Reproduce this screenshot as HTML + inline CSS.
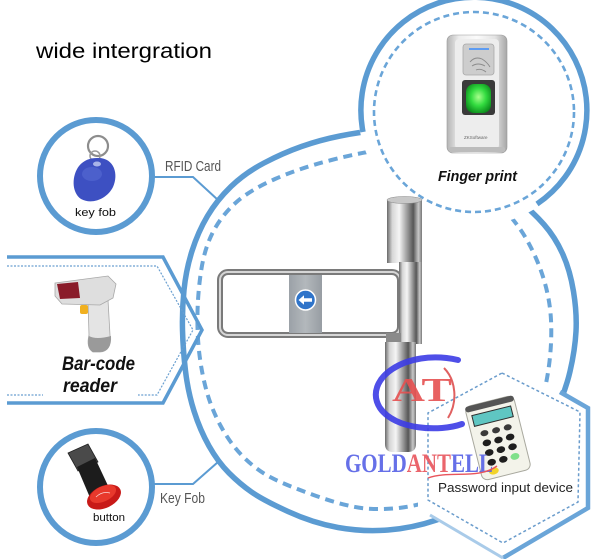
<!DOCTYPE html>
<html>
<head>
<meta charset="utf-8">
<style>
  html,body{margin:0;padding:0;background:#fff;}
  body{width:600px;height:559px;overflow:hidden;}
  svg{display:block;}
</style>
</head>
<body>
<svg width="600" height="559" viewBox="0 0 600 559" xmlns="http://www.w3.org/2000/svg">
  <defs>
    <linearGradient id="metal" x1="0" y1="0" x2="1" y2="0">
      <stop offset="0" stop-color="#6a6a6a"/>
      <stop offset="0.15" stop-color="#d6d6d6"/>
      <stop offset="0.35" stop-color="#f5f5f5"/>
      <stop offset="0.55" stop-color="#a6a6a6"/>
      <stop offset="0.75" stop-color="#575757"/>
      <stop offset="0.9" stop-color="#c9c9c9"/>
      <stop offset="1" stop-color="#777"/>
    </linearGradient>
    <linearGradient id="fpBody" x1="0" y1="0" x2="1" y2="0">
      <stop offset="0" stop-color="#b4b4b4"/>
      <stop offset="0.2" stop-color="#ededed"/>
      <stop offset="0.5" stop-color="#fbfbfb"/>
      <stop offset="0.8" stop-color="#e3e3e3"/>
      <stop offset="1" stop-color="#a6a6a6"/>
    </linearGradient>
    <radialGradient id="green" cx="0.5" cy="0.45" r="0.6">
      <stop offset="0" stop-color="#a8ff8c"/>
      <stop offset="0.5" stop-color="#33dc40"/>
      <stop offset="1" stop-color="#0b8a1b"/>
    </radialGradient>
    <linearGradient id="panel" x1="0" y1="0" x2="1" y2="0">
      <stop offset="0" stop-color="#9ba1a7"/>
      <stop offset="0.5" stop-color="#b3b8bc"/>
      <stop offset="1" stop-color="#979da3"/>
    </linearGradient>
  </defs>

  <rect x="0" y="0" width="600" height="559" fill="#fff"/>

  <!-- title -->
  <text x="36" y="58" font-family="Liberation Sans, sans-serif" font-size="21.5" fill="#000" textLength="176" lengthAdjust="spacingAndGlyphs">wide intergration</text>

  <!-- big circle solid -->
  <path d="M380,130 Q360,132 340,136 Q320,140 301.5,146.5 Q283,153 264,163 Q245,173 231,186.5 Q217,200 207.5,216 Q198,232 192,251 Q186,270 184,290 Q182,310 182.5,330 Q183,350 185.5,371 Q188,392 194,411 Q200,430 209,446 Q218,462 229,473 Q240,484 251.5,492 Q263,500 288,511.5 Q313,523 338,527.5 Q363,532 388,530 Q413,528 436.5,520 Q460,512 482.5,498.5 Q505,485 522.5,465 Q540,445 552.5,419 Q565,393 570,371.5 Q575,350 576,331.5 Q577,313 573.5,291.5 Q570,270 562.5,253.5 Q555,237 544,224.5 Q533,212 516.5,198.5 Q500,185 475,162.5 Q450,140 425,134 Q400,128 380,130 Z" fill="none" stroke="#5b9bd2" stroke-width="5.5"/>
  <!-- big circle dashed -->
  <path d="M381.5,150 Q363,152 331.5,160 Q300,168 275,179 Q250,190 236,202.5 Q222,215 213.5,231 Q205,247 201.5,268.5 Q198,290 197.5,312.5 Q197,335 199.5,355 Q202,375 207,392.5 Q212,410 221,426.5 Q230,443 241.5,455 Q253,467 266.5,475 Q280,483 313.5,495 Q347,507 366,508.5 Q385,510 402.5,507.5 Q420,505 445,497.5 Q470,490 490,476 Q510,462 522.5,443.5 Q535,425 541,404 Q547,383 549.5,361.5 Q552,340 551,320 Q550,300 544,280 Q538,260 527.5,241 Q517,222 498.5,203.5 Q480,185 460,170 Q440,155 420,151.5 Q400,148 381.5,150 Z" fill="none" stroke="#6aa5d8" stroke-width="4" stroke-dasharray="9 6"/>

  <!-- fingerprint circle -->
  <circle cx="474" cy="110" r="116" fill="#fff"/>
  <path d="M363,132 A113,113 0 1 1 537,204" fill="none" stroke="#5b9bd2" stroke-width="5.5"/>
  <circle cx="474" cy="112" r="100" fill="none" stroke="#6aa5d8" stroke-width="2.6" stroke-dasharray="6 4"/>

  <!-- fingerprint device -->
  <rect x="447" y="35" width="60" height="118" rx="6" fill="url(#fpBody)" stroke="#9a9a9a" stroke-width="0.6"/>
  <rect x="455" y="39" width="44" height="110" rx="4" fill="#ededed"/>
  <rect x="463" y="44" width="31" height="31" rx="3" fill="#cdcdcd" stroke="#a8a8a8" stroke-width="0.8"/>
  <line x1="469" y1="49" x2="489" y2="49" stroke="#3a8cff" stroke-width="1.6"/>
  <path d="M470,62 q5,-6 12,-3 q5,3 8,8 M472,66 q6,-4 13,0 M476,70 q5,-2 10,2" fill="none" stroke="#8a8a8a" stroke-width="0.9"/>
  <rect x="462" y="80" width="33" height="35" rx="3" fill="#3a3a3a"/>
  <rect x="466" y="84" width="25" height="29" rx="8" fill="url(#green)"/>
  <text x="464" y="139" font-family="Liberation Sans, sans-serif" font-size="4.5" fill="#666">ZKSoftware</text>
  <rect x="449" y="147" width="56" height="5" rx="2" fill="#bcbcbc"/>
  <text x="438" y="181" font-family="Liberation Sans, sans-serif" font-size="15" font-weight="bold" font-style="italic" fill="#111" textLength="79" lengthAdjust="spacingAndGlyphs">Finger print</text>

  <!-- RFID circle -->
  <polyline points="153,177 193,177 218,200" fill="none" stroke="#5b9bd2" stroke-width="2"/>
  <circle cx="96" cy="176" r="56" fill="#fff" stroke="#5b9bd2" stroke-width="6"/>
  <text x="165" y="171" font-family="Liberation Sans, sans-serif" font-size="15" fill="#555" textLength="56" lengthAdjust="spacingAndGlyphs">RFID Card</text>
  <!-- key fob -->
  <circle cx="98" cy="146" r="10" fill="none" stroke="#8d8d8d" stroke-width="2.2"/>
  <circle cx="95" cy="156" r="5" fill="none" stroke="#9a9a9a" stroke-width="1.5"/>
  <path d="M97,158 C114,157 119,174 113,187 C107,199 92,205 81,199 C71,192 72,175 79,166 C84,160 90,158 97,158 Z" fill="#3d50c2"/>
  <ellipse cx="92" cy="174" rx="10" ry="7" fill="#5a6ed6" opacity="0.55"/>
  <ellipse cx="97" cy="164" rx="4" ry="2.5" fill="#a9b4e8"/>
  <text x="75" y="216" font-family="Liberation Sans, sans-serif" font-size="11" fill="#111" textLength="41" lengthAdjust="spacingAndGlyphs">key fob</text>

  <!-- bar code pentagon -->
  <polyline points="7,257 163,257 202,330 163,403 7,403" fill="none" stroke="#5b9bd2" stroke-width="3.5"/>
  <polyline points="7,266 157,266 193,330 157,395 138,395" fill="none" stroke="#6a9fd0" stroke-width="1.2" stroke-dasharray="2 1.5"/>
  <line x1="7" y1="395" x2="43" y2="395" stroke="#6a9fd0" stroke-width="1.2" stroke-dasharray="2 1.5"/>
  <!-- scanner -->
  <path d="M88,302 L108,300 L110,335 Q112,351 100,352 L93,352 Q86,348 89,335 Z" fill="#e4e4e4" stroke="#a8a8a8" stroke-width="0.8"/>
  <path d="M89,336 Q96,340 111,336 Q112,351 100,352 L93,352 Q86,348 89,336 Z" fill="#9a9a9a"/>
  <path d="M55,283 L108,276 L116,284 L113,298 L100,305 L62,304 L55,296 Z" fill="#dedede" stroke="#a8a8a8" stroke-width="0.8"/>
  <path d="M57,284 L78,282 L80,298 L60,299 Z" fill="#8a1c2a"/>
  <rect x="80" y="305" width="8" height="9" rx="2" fill="#f0b020"/>
  <text x="62" y="370" font-family="Liberation Sans, sans-serif" font-size="19" font-weight="bold" font-style="italic" fill="#111" textLength="73" lengthAdjust="spacingAndGlyphs">Bar-code</text>
  <text x="63" y="392" font-family="Liberation Sans, sans-serif" font-size="19" font-weight="bold" font-style="italic" fill="#111" textLength="54" lengthAdjust="spacingAndGlyphs">reader</text>

  <!-- button circle -->
  <polyline points="153,484 193,484 218,462" fill="none" stroke="#5b9bd2" stroke-width="2"/>
  <circle cx="96" cy="487" r="56" fill="#fff" stroke="#5b9bd2" stroke-width="6"/>
  <text x="160" y="503" font-family="Liberation Sans, sans-serif" font-size="15" fill="#555" textLength="45" lengthAdjust="spacingAndGlyphs">Key Fob</text>
  <polygon points="68,453 88,444 98,462 78,471" fill="#4a4a4a" stroke="#222" stroke-width="0.8"/>
  <polygon points="77,467 95,458 110,490 91,500" fill="#1c1c1c"/>
  <ellipse cx="104" cy="497" rx="18" ry="11" transform="rotate(-25 104 497)" fill="#c81a18"/>
  <ellipse cx="103" cy="494" rx="14" ry="7.5" transform="rotate(-25 103 494)" fill="#e8392c"/>
  <path d="M96,497 q6,-6 14,-4" fill="none" stroke="#fff" stroke-width="0.8" opacity="0.8"/>
  <text x="93" y="521" font-family="Liberation Sans, sans-serif" font-size="11" fill="#111" textLength="32" lengthAdjust="spacingAndGlyphs">button</text>

  <!-- gate -->
  <rect x="220" y="272" width="180" height="63" rx="8" fill="none" stroke="#7a7a7a" stroke-width="6"/>
  <rect x="220" y="272" width="180" height="63" rx="8" fill="none" stroke="#d6d6d6" stroke-width="2"/>
  <rect x="289" y="275" width="33" height="58" fill="url(#panel)"/>
  <circle cx="305.5" cy="300" r="10" fill="#2f74c9" stroke="#fff" stroke-width="1.5"/>
  <path d="M298.5,300 L304,295.3 L304,298.3 L312,298.3 L312,301.7 L304,301.7 L304,304.7 Z" fill="#fff"/>
  <rect x="387" y="200" width="35" height="63" fill="url(#metal)"/>
  <ellipse cx="404.5" cy="200" rx="17.5" ry="3.5" fill="#c8c8c8" stroke="#888" stroke-width="0.5"/>
  <rect x="399" y="262" width="23" height="82" fill="url(#metal)"/>
  <rect x="386" y="333" width="15" height="12" fill="#8a8a8a"/>
  <path d="M385,342 L416,342 L416,444 Q416,452 408,452 L393,452 Q385,452 385,444 Z" fill="url(#metal)"/>

  <!-- password hexagon -->
  <polygon points="502,357 588,408 588,508 503,558 418,508 418,408" fill="#fff"/>
  <polyline points="560,392 588,408 588,508 503,558" fill="none" stroke="#6aa5d8" stroke-width="4.5"/>
  <line x1="503" y1="558" x2="430" y2="515" stroke="#a9cbe9" stroke-width="3"/>
  <polygon points="502,373 580,412 578,502 503,543 428,500 428,413" fill="none" stroke="#6a9ccc" stroke-width="1.5" stroke-dasharray="3 2.5"/>
  <!-- keypad -->
  <g transform="translate(498,438) rotate(-14)">
    <rect x="-25" y="-38" width="50" height="76" rx="6" fill="#f3f3ea" stroke="#a8a89e" stroke-width="1"/>
    <rect x="-25" y="-38" width="50" height="6" rx="3" fill="#555"/>
    <rect x="-20" y="-28" width="40" height="11" fill="#5fc6c2" stroke="#2e2e2e" stroke-width="1"/>
    <ellipse cx="-12" cy="-8" rx="4" ry="3" fill="#3a3a3a"/>
    <ellipse cx="0" cy="-8" rx="4" ry="3" fill="#3a3a3a"/>
    <ellipse cx="12" cy="-8" rx="4" ry="3" fill="#3a3a3a"/>
    <ellipse cx="-12" cy="2" rx="4.3" ry="3.3" fill="#1e1e1e"/>
    <ellipse cx="0" cy="2" rx="4.3" ry="3.3" fill="#1e1e1e"/>
    <ellipse cx="12" cy="2" rx="4.3" ry="3.3" fill="#1e1e1e"/>
    <ellipse cx="-12" cy="12" rx="4.3" ry="3.3" fill="#1e1e1e"/>
    <ellipse cx="0" cy="12" rx="4.3" ry="3.3" fill="#1e1e1e"/>
    <ellipse cx="12" cy="12" rx="4.3" ry="3.3" fill="#1e1e1e"/>
    <ellipse cx="-12" cy="22" rx="4.3" ry="3.3" fill="#1e1e1e"/>
    <ellipse cx="0" cy="22" rx="4.3" ry="3.3" fill="#1e1e1e"/>
    <ellipse cx="12" cy="22" rx="4.5" ry="3.3" fill="#7fe08a"/>
    <ellipse cx="-12" cy="31" rx="5" ry="3.5" fill="#f1d32a"/>
  </g>
  <text x="438" y="492" font-family="Liberation Sans, sans-serif" font-size="13" fill="#222" textLength="135" lengthAdjust="spacingAndGlyphs">Password input device</text>

  <!-- watermark logo -->
  <path d="M458,360 C405,348 362,380 380,408 C395,430 440,432 462,424" fill="none" stroke="#3c3ce6" stroke-width="6" stroke-linecap="round" opacity="0.9"/>
  <path d="M444,368 C456,380 458,402 448,418" fill="none" stroke="#e06060" stroke-width="2"/>
  <text x="392" y="401" font-family="Liberation Serif, serif" font-size="34" font-weight="bold" fill="#e65050" fill-opacity="0.9" textLength="60" lengthAdjust="spacingAndGlyphs">AT</text>
  <text x="345" y="472" font-family="Liberation Serif, serif" font-size="26" font-weight="bold" textLength="148" lengthAdjust="spacingAndGlyphs" fill-opacity="0.9"><tspan fill="#5560e6">GOLD</tspan><tspan fill="#e8545c">AN</tspan><tspan fill="#e8545c">T</tspan><tspan fill="#5560e6">ELL</tspan></text>
  <path d="M428,478 C450,470 478,480 497,466" fill="none" stroke="#e8545c" stroke-width="1.4"/>
</svg>
</body>
</html>
